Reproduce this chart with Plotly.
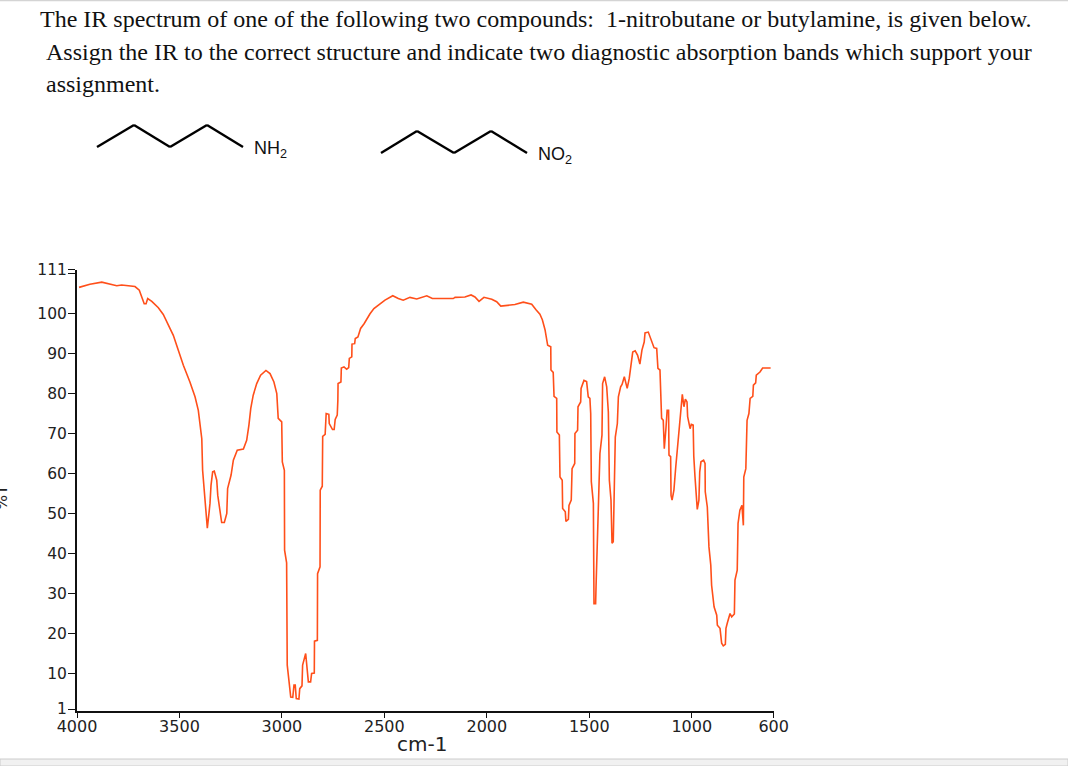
import plotly.graph_objects as go

W = 1068
H = 766

# IR spectrum
wavenumber = [3990, 3937, 3879, 3806, 3782, 3717, 3696, 3684, 3672, 3663, 3655, 3635, 3603, 3579, 3554, 3530,
              3506, 3481, 3449, 3424, 3408, 3400, 3391, 3387, 3379, 3370, 3364, 3356, 3351, 3346, 3338, 3330,
              3318, 3313, 3302, 3294, 3281, 3269, 3265, 3248, 3237, 3218, 3188, 3172, 3161, 3152, 3140, 3123,
              3104, 3078, 3058, 3039, 3025, 3018, 3001, 2998, 2988, 2987, 2977, 2974, 2965, 2957, 2947, 2941,
              2935, 2930, 2917, 2913, 2902, 2899, 2884, 2879, 2871, 2860, 2855, 2842, 2841, 2827, 2826, 2814,
              2813, 2803, 2801, 2789, 2784, 2771, 2769, 2753, 2745, 2740, 2730, 2727, 2726, 2712, 2710, 2697,
              2684, 2674, 2671, 2659, 2658, 2645, 2642, 2629, 2616, 2599, 2586, 2570, 2551, 2521, 2497, 2459,
              2432, 2408, 2375, 2342, 2293, 2266, 2164, 2155, 2107, 2077, 2058, 2038, 2014, 1976, 1952, 1932,
              1863, 1822, 1781, 1760, 1741, 1729, 1716, 1703, 1688, 1687, 1676, 1672, 1659, 1658, 1646, 1643,
              1632, 1630, 1617, 1614, 1602, 1599, 1588, 1584, 1571, 1570, 1557, 1555, 1542, 1540, 1526, 1513,
              1505, 1497, 1493, 1490, 1480, 1477, 1469, 1467, 1459, 1453, 1448, 1438, 1435, 1425, 1415, 1407,
              1402, 1394, 1389, 1383, 1379, 1373, 1363, 1358, 1347, 1340, 1329, 1315, 1305, 1298, 1288, 1276,
              1264, 1253, 1243, 1232, 1228, 1212, 1195, 1184, 1171, 1165, 1155, 1152, 1147, 1139, 1134, 1126,
              1120, 1113, 1111, 1103, 1101, 1096, 1087, 1078, 1069, 1061, 1054, 1046, 1038, 1031, 1023, 1020,
              1008, 1002, 993, 990, 984, 979, 973, 965, 961, 955, 942, 935, 934, 924, 916, 907,
              903, 891, 878, 875, 862, 854, 846, 836, 833, 826, 813, 805, 792, 789, 778, 774,
              765, 755, 748, 746, 736, 730, 721, 715, 702, 699, 688, 685, 667, 654, 615]
transmittance = [106.6, 107.4, 107.9, 107.0, 107.2, 106.8, 105.9, 104.2, 102.5, 102.5, 103.8, 103.1, 101.5, 99.8, 97.1, 94.6,
                 90.9, 87.1, 82.9, 79.2, 75.8, 72.1, 68.7, 60.8, 55.0, 50.4, 46.3, 50.0, 52.5, 57.0, 60.4, 60.6,
                 58.3, 54.5, 50.4, 47.7, 47.7, 50.0, 56.2, 59.6, 63.3, 65.8, 66.1, 68.3, 72.1, 76.3, 79.6, 82.5,
                 84.6, 85.8, 85.0, 82.9, 80.0, 73.8, 72.9, 62.9, 60.8, 40.8, 37.6, 12.0, 7.8, 4.0, 3.9, 7.0,
                 7.0, 3.6, 3.5, 6.1, 6.8, 12.0, 14.9, 12.2, 7.8, 7.8, 9.9, 10.0, 18.0, 18.2, 34.9, 36.6,
                 55.8, 56.8, 69.3, 69.8, 75.0, 74.8, 72.5, 71.0, 71.0, 73.5, 74.6, 78.3, 82.5, 82.9, 86.4, 86.7,
                 86.1, 86.5, 88.8, 89.2, 92.4, 92.5, 93.8, 94.2, 96.3, 97.5, 98.8, 100.0, 101.3, 102.4, 103.4, 104.5,
                 103.8, 103.4, 104.1, 103.7, 104.5, 103.8, 103.8, 104.1, 104.2, 104.7, 104.2, 103.1, 104.1, 103.6, 103.0, 101.9,
                 102.3, 102.9, 102.4, 101.0, 99.9, 98.5, 96.0, 92.1, 91.7, 85.9, 85.3, 79.3, 78.8, 70.4, 69.6, 59.1,
                 58.3, 51.2, 50.4, 48.0, 48.5, 52.0, 53.3, 61.2, 62.5, 70.0, 70.8, 76.7, 77.9, 81.3, 83.3, 83.0,
                 79.2, 78.8, 75.0, 57.9, 52.5, 27.4, 27.4, 31.6, 45.8, 50.4, 65.0, 69.6, 82.5, 84.2, 81.7, 75.4,
                 58.3, 53.3, 42.5, 42.9, 52.5, 69.1, 72.5, 79.2, 81.7, 82.3, 84.2, 81.3, 83.8, 87.1, 90.4, 90.7,
                 89.6, 87.4, 90.9, 92.9, 95.2, 95.4, 92.9, 91.5, 91.3, 86.3, 85.9, 80.0, 73.8, 73.3, 66.2, 71.2,
                 75.8, 75.8, 64.6, 64.2, 54.5, 53.3, 55.8, 61.6, 66.6, 72.1, 76.7, 79.8, 76.7, 78.6, 77.9, 74.2,
                 71.2, 72.3, 72.1, 64.3, 59.1, 53.7, 51.0, 53.3, 60.4, 62.9, 63.3, 62.5, 55.4, 51.6, 41.6, 37.0,
                 32.0, 26.6, 24.5, 22.0, 21.2, 17.5, 16.8, 17.2, 21.2, 22.6, 24.9, 24.1, 24.8, 33.3, 35.8, 47.5,
                 50.8, 52.0, 47.0, 59.1, 61.2, 73.3, 75.0, 78.8, 79.3, 82.1, 82.7, 84.6, 85.4, 86.4, 86.4]

x_ticks = [4000, 3500, 3000, 2500, 2000, 1500, 1000, 600]
y_ticks = [1, 10, 20, 30, 40, 50, 60, 70, 80, 90, 100, 110, 111]
y_tick_labels = ["1", "10", "20", "30", "40", "50", "60", "70", "80", "90", "100", "", "111"]

question_lines = [
    "The IR spectrum of one of the following two compounds:  1-nitrobutane or butylamine, is given below.",
    "Assign the IR to the correct structure and indicate two diagnostic absorption bands which support your",
    "assignment.",
]
question_x = [38, 44, 44]
question_y = [19, 52, 84]

amine_chain = [(97, 147), (134, 125), (170, 147), (207, 125), (243, 147)]
nitro_chain = [(381, 153), (417, 131), (454, 153), (491, 131), (527, 153)]


def px(x):
    return x / W


def py(y):
    return 1 - y / H


fig = go.Figure()
fig.add_trace(go.Scatter(x=wavenumber, y=transmittance, mode="lines",
                         line=dict(color="#ff4f1a", width=1.6), hoverinfo="skip"))

annotations = []
for text, x, y in zip(question_lines, question_x, question_y):
    annotations.append(dict(text=text, x=px(x), y=py(y), xref="paper", yref="paper", xanchor="left",
                            yanchor="middle", showarrow=False,
                            font=dict(family="Liberation Serif", size=24, color="#111111")))

sans = dict(family="Liberation Sans", size=18, color="#111111")
annotations.append(dict(text="NH<sub>2</sub>", x=px(252), y=py(150), xref="paper", yref="paper",
                        xanchor="left", yanchor="middle", showarrow=False, font=sans))
annotations.append(dict(text="NO<sub>2</sub>", x=px(536), y=py(155), xref="paper", yref="paper",
                        xanchor="left", yanchor="middle", showarrow=False, font=sans))
annotations.append(dict(text="cm-1", x=px(422), y=py(744), xref="paper", yref="paper", xanchor="center",
                        yanchor="middle", showarrow=False,
                        font=dict(family="DejaVu Sans", size=20, color="#222222")))
annotations.append(dict(text="%T", x=px(1), y=py(498), xref="paper", yref="paper", xanchor="center",
                        yanchor="middle", textangle=-90, showarrow=False,
                        font=dict(family="DejaVu Sans", size=16, color="#222222")))

shapes = []
for chain in (amine_chain, nitro_chain):
    for a, b in zip(chain[:-1], chain[1:]):
        shapes.append(dict(type="line", xref="paper", yref="paper", x0=px(a[0]), y0=py(a[1]),
                           x1=px(b[0]), y1=py(b[1]), line=dict(color="black", width=2.4)))

# grey page edges
shapes.append(dict(type="line", xref="paper", yref="paper", x0=0, x1=1, y0=py(0.5), y1=py(0.5),
                   line=dict(color="#d4d4d4", width=1.5)))
shapes.append(dict(type="rect", xref="paper", yref="paper", x0=0, x1=1, y0=py(759), y1=0,
                   fillcolor="#f1f1f1", line=dict(color="#cccccc", width=1)))

fig.update_layout(
    width=W,
    height=H,
    margin=dict(l=0, r=0, t=0, b=0, pad=0, autoexpand=False),
    paper_bgcolor="white",
    plot_bgcolor="white",
    showlegend=False,
    annotations=annotations,
    shapes=shapes,
    xaxis=dict(domain=[px(77), px(773.7)], range=[4000, 600], tickmode="array", tickvals=x_ticks,
               showgrid=False, zeroline=False, showline=True, linecolor="#111111", linewidth=1.5,
               ticks="outside", ticklen=5, tickcolor="#111111", tickwidth=1,
               ticklabelstandoff=-5,
               tickfont=dict(family="DejaVu Sans", size=16, color="#222222"),
               anchor="y"),
    yaxis=dict(domain=[py(711), py(269.8)], range=[0.5, 111], tickmode="array", tickvals=y_ticks,
               ticktext=y_tick_labels, showgrid=False, zeroline=False, showline=True,
               linecolor="#111111", linewidth=2, ticks="outside", ticklen=7, tickcolor="#111111", tickwidth=1,
               ticklabelstandoff=-2,
               tickfont=dict(family="DejaVu Sans", size=15.5, color="#222222"),
               anchor="x"),
)

fig.write_html("out.html", config=dict(displayModeBar=False), post_script="document.body.style.margin='0';")
